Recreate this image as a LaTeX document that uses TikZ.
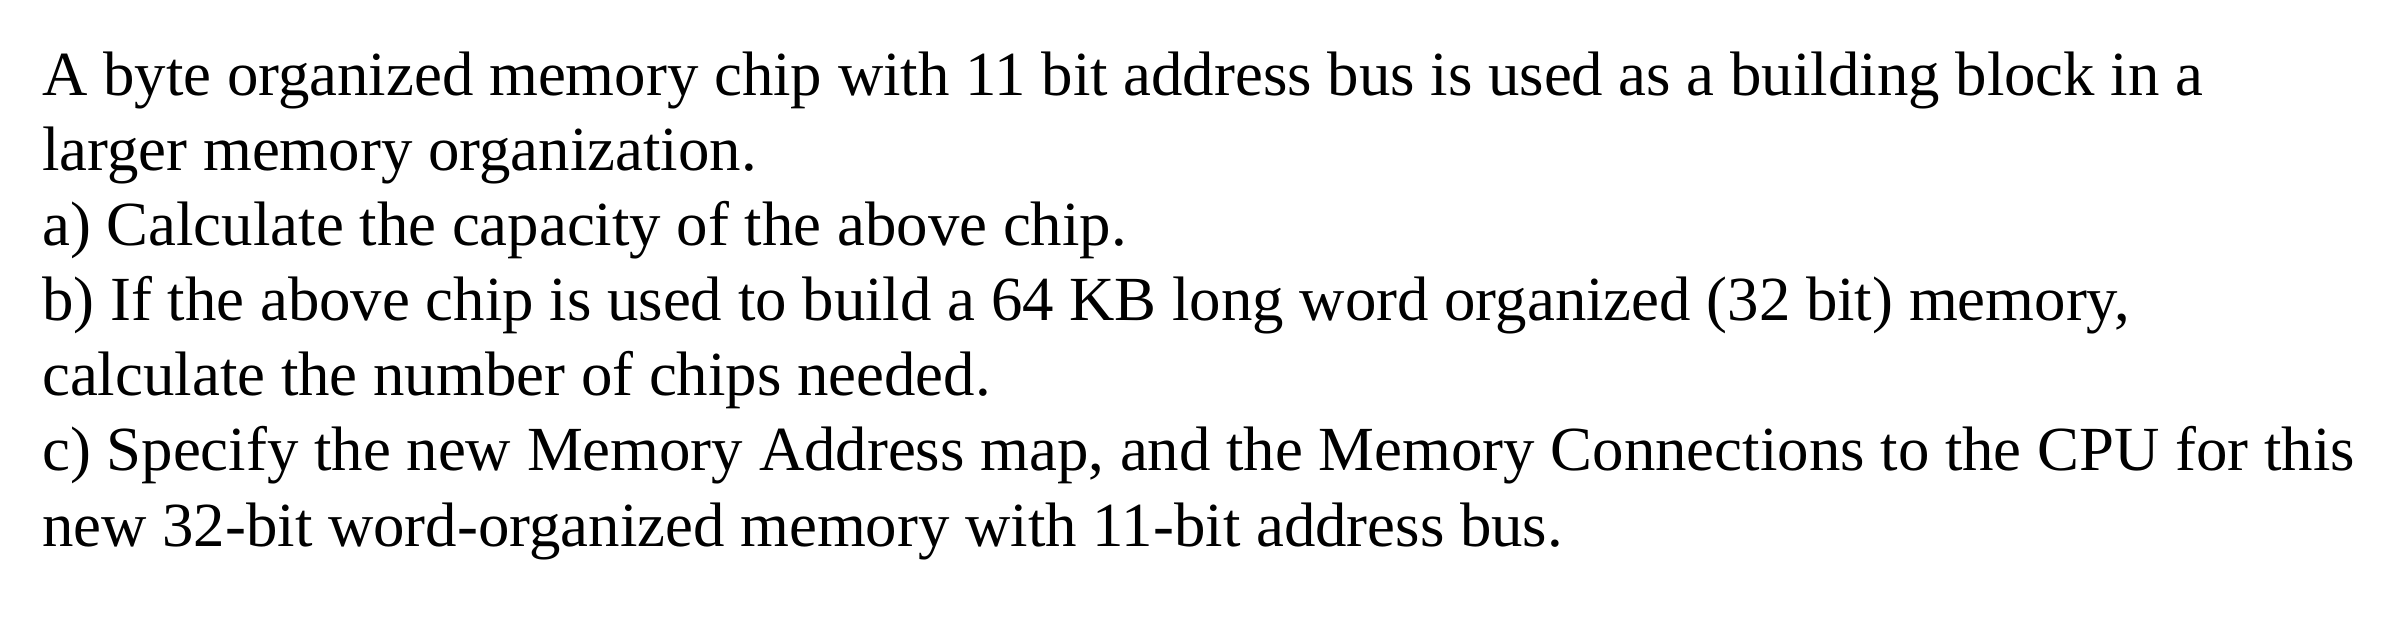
\documentclass[tikz,border=0pt]{standalone}
\usepackage{fontspec}
\setmainfont{Liberation Serif}
\begin{document}
\begin{tikzpicture}[x=1pt,y=1pt,txt/.style={anchor=base west,inner sep=0pt,font=\fontsize{62.8}{75}\selectfont}]
\useasboundingbox (0,0) rectangle (2382,640);
\node[txt] (l1) at (42,544) {A byte organized memory chip with 11 bit address bus is used as a building block in a};
\node[txt] (l2) at (42,469) {larger memory organization.};
\node[txt] (l3) at (42,394) {a) Calculate the capacity of the above chip.};
\node[txt] (l4) at (42,319) {b) If the above chip is used to build a 64 KB long word organized (32 bit) memory,};
\node[txt] (l5) at (42,244) {calculate the number of chips needed.};
\node[txt] (l6) at (42,169) {c) Specify the new Memory Address map, and the Memory Connections to the CPU for this};
\node[txt] (l7) at (42,94) {new 32-bit word-organized memory with 11-bit address bus.};
\end{tikzpicture}
\end{document}
